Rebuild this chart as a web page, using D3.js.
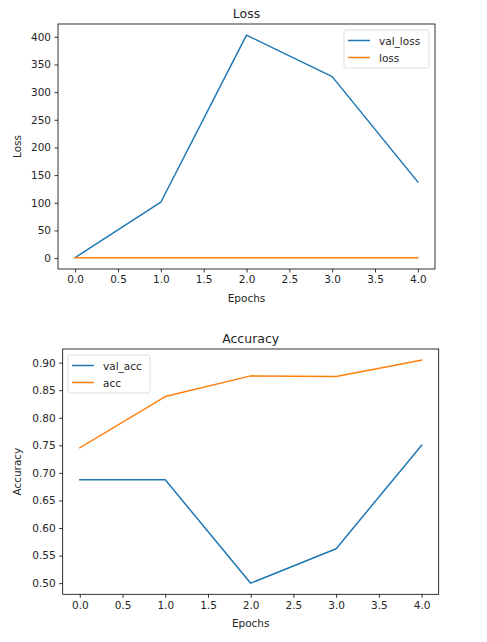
<!DOCTYPE html>
<html>
<head>
<meta charset="utf-8">
<script src="https://cdn.jsdelivr.net/npm/d3@7"></script>
<style>
  body { margin: 0; background: #fff; }
  svg { display: block; font-family: "DejaVu Sans", sans-serif; }
</style>
</head>
<body>
<svg id="chart" width="487" height="642"></svg>
<script>
const epochs = [0, 1, 2, 3, 4];
const valLoss = [1.0, 101, 403, 328, 137.5];
const trainLoss = [0.7, 0.55, 0.5, 0.5, 0.45];
const valAcc = [0.6875, 0.6875, 0.5, 0.5625, 0.75];
const trainAcc = [0.7455, 0.8385, 0.876, 0.875, 0.9045];
const xTicks = [0, 0.5, 1, 1.5, 2, 2.5, 3, 3.5, 4];
const lossTicks = [0, 50, 100, 150, 200, 250, 300, 350, 400];
const accTicks = [0.50, 0.55, 0.60, 0.65, 0.70, 0.75, 0.80, 0.85, 0.90];

const BLUE = "#1f77b4", ORANGE = "#ff7f0e";
const svg = d3.select("#chart");

function pad(ext) {
  const m = (ext[1] - ext[0]) * 0.05;
  return [ext[0] - m, ext[1] + m];
}

function panel(opts) {
  const { box, title, ylabel, series, yTicks, yFmt, legend } = opts;
  const g = svg.append("g");
  const xExt = pad(d3.extent(epochs));
  const yExt = pad(d3.extent(series.flatMap(s => s.values)));
  const x = d3.scaleLinear().domain(xExt).range([box.left, box.right]);
  const y = d3.scaleLinear().domain(yExt).range([box.bottom, box.top]);

  // lines
  const line = d3.line().x((d, i) => x(epochs[i])).y(d => y(d));
  series.forEach(s => {
    g.append("path").datum(s.values)
      .attr("d", line).attr("fill", "none")
      .attr("stroke", s.color).attr("stroke-width", 1.5)
      .attr("stroke-linejoin", "round").attr("stroke-linecap", "square");
  });

  // axes
  const xAxis = d3.axisBottom(x).tickValues(xTicks).tickFormat(d3.format(".1f")).tickSizeOuter(0).tickSize(3.5).tickPadding(3.5);
  const yAxis = d3.axisLeft(y).tickValues(yTicks).tickFormat(yFmt).tickSizeOuter(0).tickSize(3.5).tickPadding(3.5);
  const gx = g.append("g").attr("transform", `translate(0,${box.bottom})`).call(xAxis);
  const gy = g.append("g").attr("transform", `translate(${box.left},0)`).call(yAxis);
  [gx, gy].forEach(a => {
    a.select(".domain").remove();
    a.selectAll("line").attr("stroke", "#000").attr("stroke-width", 0.8);
    a.selectAll("text").attr("font-size", 10.5).attr("fill", "#262626")
      .attr("font-family", "DejaVu Sans, sans-serif");
  });

  // frame
  g.append("rect").attr("x", box.left).attr("y", box.top)
    .attr("width", box.right - box.left).attr("height", box.bottom - box.top)
    .attr("fill", "none").attr("stroke", "#000").attr("stroke-width", 0.8);

  // title & labels
  const cx = (box.left + box.right) / 2;
  g.append("text").attr("x", cx).attr("y", box.top - 6.5).attr("text-anchor", "middle")
    .attr("font-size", 12.5).attr("fill", "#262626").text(title);
  g.append("text").attr("x", cx).attr("y", box.bottom + 33).attr("text-anchor", "middle")
    .attr("font-size", 10.5).attr("fill", "#262626").text("Epochs");
  const cy = (box.top + box.bottom) / 2;
  g.append("text").attr("transform", `translate(${box.labelX},${cy}) rotate(-90)`)
    .attr("text-anchor", "middle").attr("font-size", 10.5).attr("fill", "#262626").text(ylabel);

  // legend
  const lg = g.append("g");
  lg.append("rect").attr("x", legend.x).attr("y", legend.y)
    .attr("width", legend.w).attr("height", legend.h).attr("rx", 2)
    .attr("fill", "#fff").attr("fill-opacity", 0.8)
    .attr("stroke", "#d6d6d6").attr("stroke-width", 0.8);
  series.forEach((s, i) => {
    const ry = legend.y + 10.5 + i * 17;
    lg.append("line").attr("x1", legend.x + 4).attr("x2", legend.x + 26)
      .attr("y1", ry).attr("y2", ry).attr("stroke", s.color).attr("stroke-width", 1.5);
    lg.append("text").attr("x", legend.x + 35).attr("y", ry + 4)
      .attr("font-size", 10.5).attr("fill", "#262626").text(s.name);
  });
}

panel({
  box: { left: 58, right: 435, top: 24, bottom: 269, labelX: 21 },
  title: "Loss", ylabel: "Loss",
  series: [{ name: "val_loss", values: valLoss, color: BLUE },
           { name: "loss", values: trainLoss, color: ORANGE }],
  yTicks: lossTicks, yFmt: d3.format("d"),
  legend: { x: 344, y: 30, w: 85, h: 38 }
});

panel({
  box: { left: 62.7, right: 438.7, top: 349, bottom: 594.3, labelX: 21 },
  title: "Accuracy", ylabel: "Accuracy",
  series: [{ name: "val_acc", values: valAcc, color: BLUE },
           { name: "acc", values: trainAcc, color: ORANGE }],
  yTicks: accTicks, yFmt: d3.format(".2f"),
  legend: { x: 68, y: 355, w: 82, h: 38 }
});
</script>
</body>
</html>
